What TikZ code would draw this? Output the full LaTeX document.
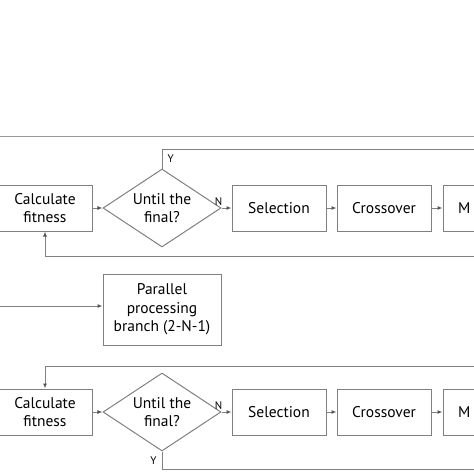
\documentclass[tikz,border=0pt]{standalone}
\usepackage{fontspec}
\setmainfont{PT Sans}
\usepackage[dvipsnames]{xcolor}
\usetikzlibrary{arrows.meta}
\usetikzlibrary{shapes.geometric}
\usetikzlibrary{positioning}
\definecolor{edge}{HTML}{808080}
\definecolor{tip}{HTML}{555555}
\tikzset{box/.style = {draw=edge, line width=1pt, minimum width=94pt, minimum height=46pt, inner sep=2pt, align=center, font=\fontsize{15.5}{18.5}\selectfont}}
\tikzset{decide/.style = {diamond, draw=edge, line width=1pt, aspect=1.5, minimum width=118pt, minimum height=78pt, inner sep=0, align=center, font=\fontsize{15.5}{18.5}\selectfont}}
\tikzset{link/.style = {draw=edge, line width=1pt}}
\tikzset{flow/.style = {link, -{Latex[length=5pt,width=4pt,color=tip]}}}
\tikzset{lab/.style = {font=\fontsize{11}{13}\selectfont, inner sep=1pt}}

\begin{document}
\begin{tikzpicture}[x=1pt,y=-1pt]
        \useasboundingbox (0,0) rectangle (474,474);
        \clip (0,0) rectangle (474,474);
        \draw [link, draw=edge!80] (0,136) -- (474,136);
        % upper branch
        \node [box] (calcA) at (45,208) {Calculate\\fitness};
        \node [decide] (untilA) at (162,208) {Until the\\final?};
        \node [box] (selA) at (279,208) {Selection};
        \node [box] (crossA) at (384,208) {Crossover};
        \node [box, text width=64pt, align=left] (mutA) at (490,208) {M};
        \coordinate (yA) at (480,149);
        \coordinate (backA) at (480,256);
        \draw [flow] (calcA) -- (untilA);
        \draw [flow] (untilA) -- (selA) node [lab, pos=0, above=1pt, xshift=-3pt] {N};
        \draw [flow] (selA) -- (crossA);
        \draw [flow] (crossA) -- (mutA);
        \draw [link] (untilA.north) |- (yA) node [lab, pos=0.25, right=4pt] {Y};
        \draw [flow] (backA) -| (calcA.south);
        % parallel branches
        \node [box, minimum width=118pt, minimum height=71pt] (par) at (162,309.5) {Parallel\\processing\\branch (2-N-1)};
        \coordinate (inPar) at (0,306);
        \draw [flow] (inPar) -- (inPar -| par.west);
        % lower branch
        \node [box] (calcB) at (45,412) {Calculate\\fitness};
        \node [decide] (untilB) at (162,412) {Until the\\final?};
        \node [box] (selB) at (279,412) {Selection};
        \node [box] (crossB) at (384,412) {Crossover};
        \node [box, text width=64pt, align=left] (mutB) at (490,412) {M};
        \coordinate (yB) at (480,469);
        \coordinate (backB) at (480,366);
        \draw [flow] (calcB) -- (untilB);
        \draw [flow] (untilB) -- (selB) node [lab, pos=0, above=1pt, xshift=-3pt] {N};
        \draw [flow] (selB) -- (crossB);
        \draw [flow] (crossB) -- (mutB);
        \draw [link] (untilB.south) |- (yB) node [lab, pos=0.25, left=4pt] {Y};
        \draw [flow] (backB) -| (calcB.north);
\end{tikzpicture}
\end{document}
